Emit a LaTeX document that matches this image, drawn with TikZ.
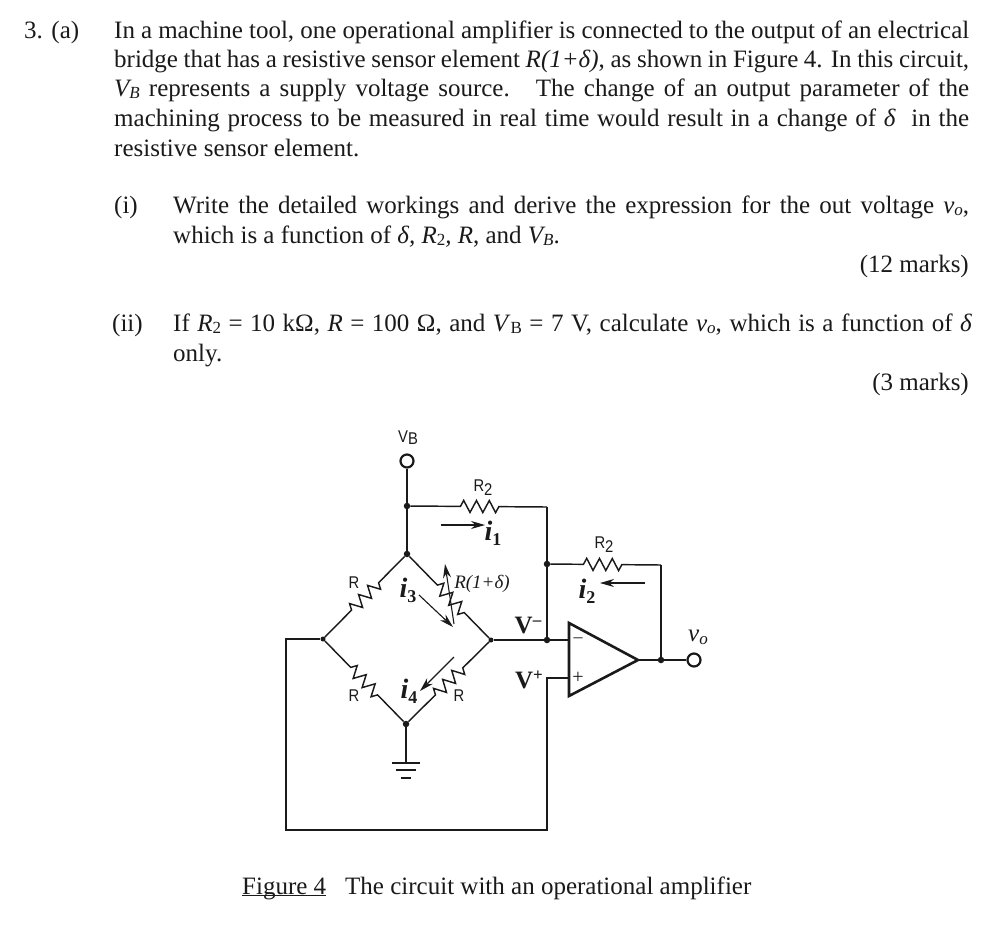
\documentclass[tikz,border=0pt]{standalone}
\usepackage{fontspec}
\setmainfont{Liberation Serif}
\setsansfont{Liberation Sans}
\newfontfamily\labfont[FakeStretch=0.87]{Liberation Sans}
\usetikzlibrary{decorations.pathmorphing,arrows.meta,calc}
\definecolor{ink}{HTML}{1A1A1A}
\newcommand{\tl}[2]{\makebox[#1pt][s]{#2}}
\newcommand{\sub}[1]{\raisebox{-2.2pt}{\fontsize{17}{17}\selectfont #1}}
\newcommand{\csub}[1]{\raisebox{-5pt}{\fontsize{18}{18}\selectfont\upshape #1}}
\tikzset{
  wire/.style={draw=ink,line width=1.45pt},
  txt/.style={anchor=base west,inner sep=0pt,text=ink,font=\fontsize{25}{30}\selectfont},
  lab/.style={inner sep=0pt,text=ink,font=\labfont\fontsize{17}{18}\selectfont},
  cur/.style={inner sep=0pt,text=ink,font=\bfseries\itshape\fontsize{28}{30}\selectfont},
  volt/.style={inner sep=0pt,text=ink,font=\bfseries\fontsize{25}{30}\selectfont},
  resist/.style 2 args={wire,line join=miter,decorate,decoration={zigzag,segment length=12.8pt,amplitude=6pt,pre length=#1,post length=#2}},
  flow/.style={draw=ink,line width=1.1pt,-{Stealth[length=14pt,width=8pt]}},
  dotn/.style={circle,fill=ink,inner sep=0pt,minimum size=6.5pt},
  term/.style={circle,draw=ink,fill=white,line width=2.2pt,inner sep=0pt,minimum size=13pt},
}
\begin{document}
\begin{tikzpicture}[x=1pt,y=-1pt]
\useasboundingbox (0,0) rectangle (1005,945);
\fill[white] (0,0) rectangle (1005,945);
% question text
\node[txt] (q) at (24,38) {3.\hspace{8.5pt}(a)};
\node[txt] (l1) at (114,38) {\tl{855}{In a machine tool, one operational amplifier is connected to the output of an electrical}};
\node[txt] (l2) at (114,67) {\tl{855}{bridge that has a resistive sensor element \textit{R(1+δ)}, as shown in Figure 4. In this circuit,}};
\node[txt] (l3) at (114,96) {\tl{855}{\textit{V\sub{B}} represents a supply voltage source. \ The change of an output parameter of the}};
\node[txt] (l4) at (114,126) {\tl{855}{machining process to be measured in real time would result in a change of \textit{δ} \ in the}};
\node[txt] (l5) at (114,156) {resistive sensor element.};
\node[txt] (i1) at (114,213) {(i)};
\node[txt] (i1a) at (173,213) {\tl{796}{Write the detailed workings and derive the expression for the out voltage \textit{v\sub{o}},}};
\node[txt] (i1b) at (173,243) {which is a function of \textit{δ, R}\sub{2}\textit{, R}, and \textit{V\sub{B}}.};
\node[txt,anchor=base east] (m1) at (969,272) {(12 marks)};
\node[txt] (i2) at (112,331) {(ii)};
\node[txt] (i2a) at (173,331) {\tl{799}{If \textit{R}\sub{2} = 10 kΩ, \textit{R} = 100 Ω, and \textit{V}\sub{B} = 7 V, calculate \textit{v\sub{o}}, which is a function of \textit{δ}}};
\node[txt] (i2b) at (173,361) {only.};
\node[txt,anchor=base east] (m2) at (969,390) {(3 marks)};
\node[txt] (cap) at (242,894) {\underline{\smash{Figure 4}}\hspace{19pt}The circuit with an operational amplifier};
% terminals and junctions
\node[term] (vb) at (407,461) {};
\node[dotn] (jt) at (407,506) {};
\node[dotn] (top) at (407,554) {};
\node[dotn,minimum size=5pt] (left) at (323,639) {};
\node[dotn,minimum size=5pt] (right) at (491,640) {};
\node[dotn] (bot) at (406,724) {};
\node[dotn] (jm) at (547,564) {};
\node[dotn] (jv) at (547,640) {};
\node[dotn] (jo) at (661,660) {};
\node[term] (vo) at (694,660) {};
\coordinate (c1) at (547,507);
\coordinate (c2) at (661,565);
\coordinate (inm) at (569,640);
\coordinate (inp) at (569,678);
\coordinate (c3) at (547,678);
\coordinate (c4) at (547,830);
\coordinate (c5) at (286,830);
\coordinate (c6) at (286,639);
\coordinate (gnd) at (406,762);
% op amp
\draw[draw=ink,line width=2.6pt,line join=miter,fill=white] (569,623) -- (638,660) -- (569,696) -- cycle;
\coordinate (oa) at (638,660);
\node[inner sep=0pt,text=ink,font=\fontsize{18}{18}\selectfont] (minus) at (578,640) {–};
\node[inner sep=0pt,text=ink,font=\fontsize{20}{20}\selectfont] (plus) at (578,678) {+};
% wires
\draw[wire] (vb) -- (jt) -- (top);
\draw[wire] (jm) -- (c1);
\draw[wire] (jm) -- (jv);
\draw[wire] (right) -- (jv) -- (inm);
\draw[wire] (inp) -- (c3) -- (c4) -- (c5) -- (c6) -- (left);
\draw[wire] (c2) -- (jo);
\draw[wire] (oa) -- (jo) -- (vo);
\draw[wire] (bot) -- (gnd);
% resistors
\draw[resist={50pt}{47pt}] (jt) -- (c1);
\draw[resist={33pt}{38pt}] (jm) -- (c2);
\draw[resist={37pt}{37pt}] (top) -- (left);
\draw[resist={40pt}{34pt}] (top) -- (right);
\draw[resist={37pt}{37pt}] (left) -- (bot);
\draw[resist={37pt}{37pt}] (right) -- (bot);
% ground
\coordinate (g1) at (406,763);
\coordinate (g2) at (406,770);
\coordinate (g3) at (406,778);
\draw[wire,line width=1.6pt] ($(g1)+(-14,0)$) -- ($(g1)+(14,0)$);
\draw[wire,line width=1.6pt] ($(g2)+(-10,0)$) -- ($(g2)+(10,0)$);
\draw[wire,line width=1.6pt] ($(g3)+(-5,0)$) -- ($(g3)+(5,0)$);
% current and sensor arrows
\coordinate (a1s) at (441,525); \coordinate (a1e) at (485,525);
\coordinate (a2s) at (645,583); \coordinate (a2e) at (600,583);
\coordinate (a3s) at (419,595); \coordinate (a3e) at (453,627);
\coordinate (a4s) at (454,657); \coordinate (a4e) at (420,691);
\coordinate (ss) at (454,624); \coordinate (se) at (445,564);
\draw[flow] (a1s) -- (a1e);
\draw[flow] (a2s) -- (a2e);
\draw[flow] (a3s) -- (a3e);
\draw[flow] (a4s) -- (a4e);
\draw[flow] (ss) -- (se);
% labels
\node[lab] (lvb) at (408,438) {V\raisebox{-2pt}{B}};
\node[lab] (lr2a) at (483,488) {R\raisebox{-4pt}{2}};
\node[lab] (lr2b) at (604,545) {R\raisebox{-4pt}{2}};
\node[lab] (lr1) at (354,583) {R};
\node[lab] (lr3) at (354,696) {R};
\node[lab] (lr4) at (459,696) {R};
\node[inner sep=0pt,text=ink,font=\itshape\fontsize{19}{20}\selectfont] (lsens) at (482,584) {R(1+δ)};
\node[cur] (li1) at (493,533) {i\csub{1}};
\node[cur] (li2) at (587,591) {i\csub{2}};
\node[cur] (li3) at (408,590) {i\csub{3}};
\node[cur] (li4) at (409,691) {i\csub{4}};
\node[volt] (lvm) at (528,625) {V\raisebox{8pt}{\fontsize{17}{17}\selectfont –}};
\node[volt] (lvp) at (529,680) {V\raisebox{8pt}{\fontsize{17}{17}\selectfont +}};
\node[inner sep=0pt,text=ink,font=\itshape\fontsize{25}{30}\selectfont] (lvo) at (698,637) {v\raisebox{-3pt}{\fontsize{17}{17}\selectfont o}};
\end{tikzpicture}
\end{document}
